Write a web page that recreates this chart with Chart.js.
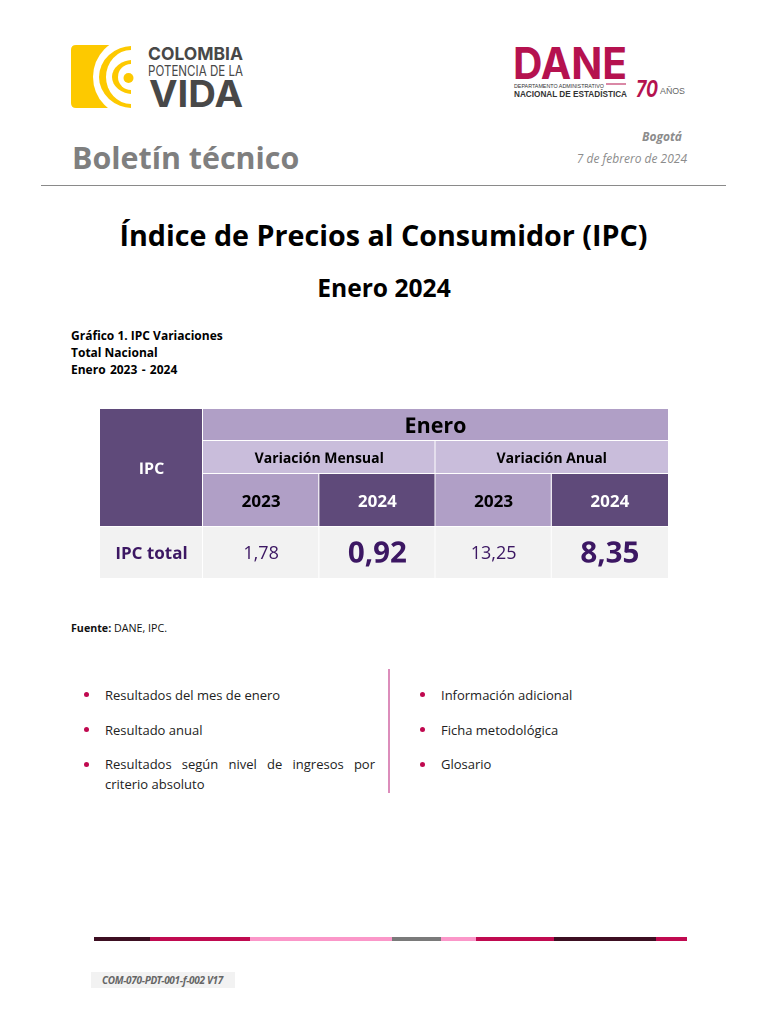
<!DOCTYPE html>
<html lang="es"><head><meta charset="utf-8">
<script src="https://cdn.jsdelivr.net/npm/chart.js@4"></script>
<style>
html,body{margin:0;padding:0;background:#fff;width:768px;height:1024px;overflow:hidden}
body{position:relative;font-family:"Open Sans","Noto Sans",sans-serif;color:#222}
.t{position:absolute;white-space:nowrap;line-height:1;transform:translateY(-50%)}
.r{position:absolute}
.b{position:absolute;width:5px;height:5px;border-radius:50%;background:#c0084f}
#wrap{position:absolute;left:100px;top:409px;width:568px;height:169px}
</style></head><body>
<svg class="r" style="left:0;top:0" width="768" height="120" viewBox="0 0 768 120">
 <defs><clipPath id="lc"><path d="M76 45H131V108H76Q71 108 71 103V50Q71 45 76 45Z"/></clipPath></defs>
 <g clip-path="url(#lc)">
  <rect x="71" y="45" width="60" height="63" fill="#fdc900"/>
  <ellipse cx="131" cy="77" rx="38" ry="39" fill="#fff"/><ellipse cx="133" cy="77" rx="34" ry="31" fill="#fdc900"/>
  <ellipse cx="131" cy="77" rx="25" ry="27" fill="#fff"/><ellipse cx="133" cy="77" rx="21" ry="17" fill="#fdc900"/>
  <ellipse cx="131" cy="77" rx="13" ry="13" fill="#fff"/>
 </g>
 <circle cx="128.5" cy="78" r="5" fill="#fdc900"/>
 <g font-family="Inter,Lato,sans-serif" fill="#484848">
  <text x="148" y="60" font-size="18" font-weight="700" textLength="95" lengthAdjust="spacingAndGlyphs">COLOMBIA</text>
  <text x="148" y="76" font-size="14" font-weight="400" textLength="95" lengthAdjust="spacingAndGlyphs">POTENCIA DE LA</text>
  <text x="149" y="107" font-size="37" font-weight="700" textLength="94" lengthAdjust="spacingAndGlyphs">VIDA</text>
 </g>
 <g font-family="Inter,Liberation Sans,sans-serif" fill="#b5124f">
  <text x="513" y="79" font-size="44" font-weight="700" textLength="114" lengthAdjust="spacingAndGlyphs">DANE</text>
  <rect x="606" y="83.5" width="20" height="1"/>
  <text x="636" y="97" font-size="23" font-style="italic" font-weight="700" textLength="22" lengthAdjust="spacingAndGlyphs">70</text>
 </g>
 <g font-family="Liberation Sans,sans-serif" fill="#333">
  <text x="514" y="87.5" font-size="5.6" textLength="90" lengthAdjust="spacingAndGlyphs">DEPARTAMENTO ADMINISTRATIVO</text>
  <text x="514" y="97" font-size="9.5" font-weight="700" textLength="113" lengthAdjust="spacingAndGlyphs">NACIONAL DE ESTADÍSTICA</text>
  <text x="660" y="93.5" font-size="9" fill="#666" textLength="25" lengthAdjust="spacingAndGlyphs">AÑOS</text>
 </g>
</svg>

<div class="t" style="left:72px;top:158px;font-size:30.4px;font-weight:700;color:#7f7f7f">Boletín técnico</div>
<div class="t" style="right:86px;top:137px;font-size:12px;font-weight:700;font-style:italic;color:#8c8c8c">Bogotá</div>
<div class="t" style="right:81px;top:159px;font-size:12px;font-style:italic;color:#8c8c8c">7 de febrero de 2024</div>
<div class="r" style="left:41px;top:185px;width:685px;height:1px;background:#8a8a8a"></div>

<div class="t" style="left:0;width:767px;text-align:center;top:235px;font-size:28.7px;font-weight:700;color:#000">Índice de Precios al Consumidor (IPC)</div>
<div class="t" style="left:0;width:768px;text-align:center;top:288px;font-size:24.6px;font-weight:700;color:#000">Enero 2024</div>

<div class="t" style="left:71px;top:336px;font-size:12px;font-weight:700;color:#000">Gráfico 1. IPC Variaciones</div>
<div class="t" style="left:71px;top:353px;font-size:12px;font-weight:700;color:#000">Total Nacional</div>
<div class="t" style="left:71px;top:370px;font-size:12px;font-weight:700;color:#000;word-spacing:1.2px">Enero 2023 - 2024</div>

<div id="wrap"><canvas id="c" width="568" height="169"></canvas></div>

<div class="t" style="left:71px;top:628px;font-size:10.7px;color:#111"><b>Fuente:</b> DANE, IPC.</div>

<div class="b" style="left:84px;top:692px"></div><div class="t" style="left:105px;top:695px;font-size:13px">Resultados del mes de enero</div>
<div class="b" style="left:84px;top:727px"></div><div class="t" style="left:105px;top:729.5px;font-size:13px">Resultado anual</div>
<div class="b" style="left:84px;top:762px"></div>
<div class="t" style="left:105px;top:764px;font-size:13px;width:270px;display:flex;justify-content:space-between"><span>Resultados</span><span>según</span><span>nivel</span><span>de</span><span>ingresos</span><span>por</span></div>
<div class="t" style="left:105px;top:783.5px;font-size:13px">criterio absoluto</div>
<div class="r" style="left:388px;top:669px;width:2px;height:124px;background:#dc8dbb"></div>
<div class="b" style="left:420px;top:692px"></div><div class="t" style="left:441px;top:695px;font-size:13px">Información adicional</div>
<div class="b" style="left:420px;top:727px"></div><div class="t" style="left:441px;top:729.5px;font-size:13px">Ficha metodológica</div>
<div class="b" style="left:420px;top:762px"></div><div class="t" style="left:441px;top:764px;font-size:13px">Glosario</div>

<div class="r" style="left:94px;top:937px;width:56px;height:4px;background:#3d0f22"></div>
<div class="r" style="left:150px;top:937px;width:100px;height:4px;background:#c00a50"></div>
<div class="r" style="left:250px;top:937px;width:142px;height:4px;background:#fb97c9"></div>
<div class="r" style="left:392px;top:937px;width:49px;height:4px;background:#7a7a7a"></div>
<div class="r" style="left:441px;top:937px;width:35px;height:4px;background:#fb97c9"></div>
<div class="r" style="left:476px;top:937px;width:78px;height:4px;background:#c00a50"></div>
<div class="r" style="left:554px;top:937px;width:102px;height:4px;background:#3d0f22"></div>
<div class="r" style="left:656px;top:937px;width:31px;height:4px;background:#c00a50"></div>

<div class="r" style="left:91px;top:972px;width:144px;height:16px;background:#f2f2f2"></div>
<div class="t" style="left:102px;top:980px;font-size:10px;font-weight:700;font-style:italic;color:#666;font-family:'Noto Sans',sans-serif;letter-spacing:-.3px">COM-070-PDT-001-f-002 V17</div>

<script>
// Table content
const rowHeader = 'IPC';
const groupLabel = 'Enero';
const variationLabels = ['Variación Mensual', 'Variación Anual'];
const years = ['2023', '2024', '2023', '2024'];
const totalLabel = 'IPC total';
const ipcValues = [1.78, 0.92, 13.25, 8.35];
const ipcText = ipcValues.map(v => v.toFixed(2).replace('.', ','));
// Table layout in scale units
const columns = [1, 2, 3, 4];
const rowEdges = [0, 32, 65, 118, 169];

const colW = 116.25;
const dark = '#5f4a7a', mid = '#b09fc6', light = '#c9bddb', grey = '#f2f2f2', ink = '#3c1763';
const span = (i, a) => ({x: i, y: [rowEdges[a], rowEdges[a + 1]]});
const lastCol = ctx => ctx.raw && ctx.raw.x === columns[columns.length - 1];

const datasets = [
  {label: rowHeader, data: [{x: 0, y: [rowEdges[0], rowEdges[3]]}], backgroundColor: dark,
   barThickness: colW, borderWidth: {top: 0, left: 0, right: 1, bottom: 1}},
  {label: groupLabel, data: [span(2.5, 0)], backgroundColor: mid,
   barThickness: colW * 4, borderWidth: {top: 0, left: 0, right: 0, bottom: 1}},
  {label: 'Variación', data: [span(1.5, 1), span(3.5, 1)], backgroundColor: light,
   barThickness: colW * 2, borderWidth: ctx => ({top: 0, left: 0, bottom: 1, right: ctx.dataIndex === 0 ? 1 : 0})},
  {label: 'Año', data: columns.map(c => span(c, 2)),
   backgroundColor: columns.map((c, i) => i % 2 ? dark : mid), barThickness: colW,
   borderWidth: ctx => ({top: 0, left: 0, bottom: 1, right: lastCol(ctx) ? 0 : 1})},
  {label: totalLabel, data: [0, ...columns].map(c => span(c, 3)), backgroundColor: grey, barThickness: colW,
   borderWidth: ctx => ({top: 0, left: 0, bottom: 0, right: lastCol(ctx) ? 0 : 1})}
];
datasets.forEach(d => Object.assign(d, {
  grouped: false, borderColor: '#ffffff', borderSkipped: false, inflateAmount: 0, clip: 0
}));

const fontStack = '"Open Sans","Noto Sans",sans-serif';
const cellText = {
  id: 'cellText',
  afterDatasetsDraw(chart) {
    const g = chart.ctx, xs = chart.scales.x, ys = chart.scales.y;
    const put = (txt, px, py, font, color) => {
      g.save(); g.font = font + ' ' + fontStack; g.fillStyle = color;
      g.textAlign = 'center'; g.textBaseline = 'middle'; g.fillText(txt, px, py + 1.5); g.restore();
    };
    const midY = r => (ys.getPixelForValue(rowEdges[r]) + ys.getPixelForValue(rowEdges[r + 1])) / 2;
    const leftMid = (chart.chartArea.left + xs.getPixelForValue(0.5)) / 2;
    put(rowHeader, leftMid, (ys.getPixelForValue(rowEdges[0]) + ys.getPixelForValue(rowEdges[3])) / 2, '700 16px', '#fff');
    put(groupLabel, xs.getPixelForValue(2.5), midY(0) + 0.5, '700 21.5px', '#000');
    put(variationLabels[0], xs.getPixelForValue(1.5), midY(1), '700 14px', '#000');
    put(variationLabels[1], xs.getPixelForValue(3.5), midY(1), '700 14px', '#000');
    years.forEach((y, i) => put(y, xs.getPixelForValue(i + 1), midY(2), '700 17px', i % 2 ? '#fff' : '#000'));
    put(totalLabel, leftMid, midY(3), '700 17px', ink);
    ipcText.forEach((t, i) => put(t, xs.getPixelForValue(i + 1), midY(3),
      i % 2 ? '700 29.5px' : '400 18px', ink));
  }
};

new Chart(document.getElementById('c'), {
  type: 'bar',
  data: {datasets},
  plugins: [cellText],
  options: {
    responsive: false, animation: false, devicePixelRatio: 2,
    layout: {padding: 0},
    plugins: {legend: {display: false}, tooltip: {enabled: false}},
    scales: {
      x: {type: 'linear', min: 4.5 - 568 / colW, max: 4.5, offset: false, display: false},
      y: {type: 'linear', min: 0, max: 169, reverse: true, display: false}
    }
  }
});
</script>
</body></html>
